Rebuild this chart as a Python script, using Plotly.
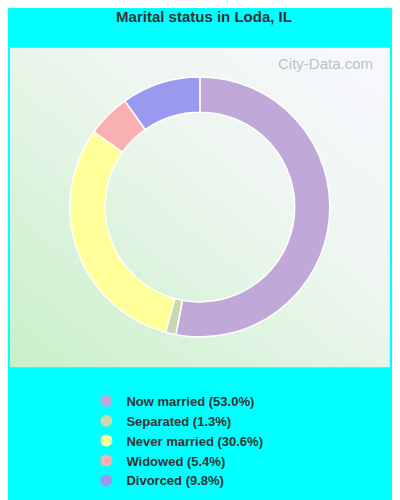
import plotly.graph_objects as go
import numpy as np

labels = ["Now married (53.0%)", "Separated (1.3%)", "Never married (30.6%)",
          "Widowed (5.4%)", "Divorced (9.8%)"]
values = [53.0, 1.3, 30.6, 5.4, 9.8]
colors = ["#C0A8D8", "#C8D8B0", "#FFFF99", "#F8B0B0", "#9999EE"]

# background gradient (greenish bottom-left to white top-right)
gx = np.linspace(0, 1, 40)
gy = np.linspace(0, 1, 40)
gz = np.add.outer(gy, gx) / 2

fig = go.Figure()
fig.add_trace(go.Heatmap(
    z=gz, x=gx, y=gy, showscale=False, hoverinfo="skip",
    colorscale=[[0, "#C8F0C8"], [0.6, "#EEF6F0"], [1, "#F8F8FF"]],
))
fig.add_trace(go.Pie(
    labels=labels, values=values, hole=0.73, sort=False,
    direction="clockwise", rotation=0, showlegend=False,
    marker=dict(colors=colors, line=dict(color="white", width=1.5)),
    textinfo="none", hoverinfo="label",
    domain=dict(x=[0.158, 0.821], y=[0.331, 0.860]),
))
# legend entries with circular markers
for lab, col in zip(labels, colors):
    fig.add_trace(go.Scatter(x=[None], y=[None], mode="markers", name="<b>" + lab + "</b>",
                             marker=dict(symbol="circle", size=15, color=col)))

fig.update_layout(
    width=392, height=492,
    margin=dict(l=0, r=0, t=0, b=0),
    paper_bgcolor="#00FFFF",
    plot_bgcolor="#00FFFF",
    xaxis=dict(domain=[0.005, 0.974], visible=False, range=[0, 1]),
    yaxis=dict(domain=[0.270, 0.919], visible=False, range=[0, 1]),
    title=dict(text="<b>Marital status in Loda, IL</b>", x=0.5, y=0.982,
               xanchor="center", yanchor="middle",
               font=dict(size=15, color="#333333", family="Arial")),
    legend=dict(x=0.2, y=0.232, xanchor="left", yanchor="top",
                font=dict(size=13, color="#333333", family="Arial"),
                bgcolor="rgba(0,0,0,0)", itemsizing="constant", tracegroupgap=0),
    showlegend=True,
)
fig.add_annotation(text="City-Data.com", xref="paper", yref="paper",
                   x=0.936, y=0.888, xanchor="right", yanchor="middle",
                   showarrow=False, font=dict(size=15, color="#B8C4C8", family="Arial"))

fig.write_html("out.html")
